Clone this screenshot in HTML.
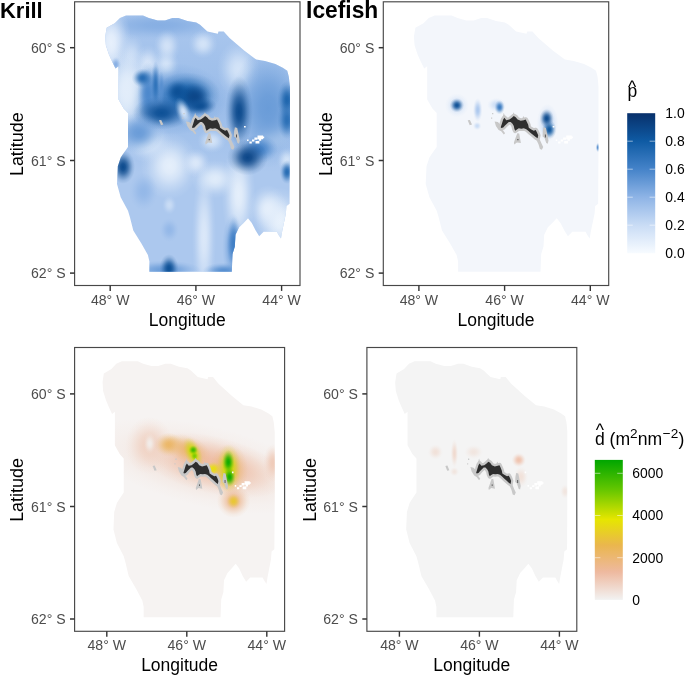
<!DOCTYPE html>
<html lang="en"><head><meta charset="utf-8"><title>Krill and Icefish maps</title>
<style>
html,body{margin:0;padding:0;background:#fff}
body{width:685px;height:676px;overflow:hidden}
svg{display:block}
text{font-family:"Liberation Sans",Arial,Helvetica,sans-serif}
.tk{font-size:14.1px;fill:#4d4d4d}
.ax{font-size:17.5px;fill:#000}
.tt{font-size:23.6px;font-weight:bold;fill:#000}
.lg{font-size:13.9px;fill:#000}
</style></head><body>
<svg width="685" height="676" viewBox="0 0 685 676">
<defs>
<clipPath id="reg"><polygon points="126.0,15.6 143.0,15.6 148.8,18.1 157.7,20.4 165.0,20.4 172.5,18.1 178.4,18.1 187.3,21.1 196.2,22.6 200.0,24.8 207.4,31.4 217.8,33.7 218.5,31.4 223.7,31.4 229.6,38.1 244.4,50.7 256.2,59.6 265.0,61.0 275.4,64.0 282.8,67.7 287.3,70.7 288.8,76.6 290.0,87.0 290.0,150.0 289.5,203.7 286.5,205.9 285.8,214.0 283.6,224.4 282.1,231.8 281.0,238.4 278.4,234.7 276.9,231.8 263.6,231.8 259.2,236.2 255.5,230.3 251.8,222.9 248.0,218.2 243.6,222.9 239.2,227.3 235.5,234.7 234.8,246.6 232.5,254.0 231.8,271.8 149.4,271.8 149.4,261.4 147.9,254.9 141.4,243.5 133.3,230.4 130.0,217.4 128.0,210.7 120.7,197.3 117.0,184.0 117.8,166.3 120.7,157.4 123.0,154.0 128.0,147.0 128.0,113.0 123.7,108.5 118.5,99.6 118.5,66.2 115.5,68.4 111.8,61.0 108.9,54.4 105.9,45.5 105.2,36.6 106.7,27.8 114.8,23.3 120.0,18.1"/></clipPath>
<linearGradient id="gp" x1="0" y1="1" x2="0" y2="0"><stop offset="0" stop-color="#f7fbff"/><stop offset="0.2" stop-color="#c9dcf5"/><stop offset="0.4" stop-color="#8eb4e6"/><stop offset="0.6" stop-color="#4583c9"/><stop offset="0.8" stop-color="#0f5ba4"/><stop offset="1.0" stop-color="#08306b"/></linearGradient>
<linearGradient id="gd" x1="0" y1="1" x2="0" y2="0"><stop offset="0" stop-color="#f2f2f2"/><stop offset="0.2" stop-color="#eeb99f"/><stop offset="0.39" stop-color="#eab64e"/><stop offset="0.575" stop-color="#e6e600"/><stop offset="0.79" stop-color="#63c600"/><stop offset="1.0" stop-color="#00a600"/></linearGradient>
<linearGradient id="base1" x1="0" y1="0" x2="0" y2="1"><stop offset="0" stop-color="#acc8ee"/><stop offset="0.35" stop-color="#9abce9"/><stop offset="0.6" stop-color="#acc8ee"/><stop offset="1" stop-color="#acc8ee"/></linearGradient>
<radialGradient id="g0"><stop offset="0" stop-color="#87afe3" stop-opacity="1"/><stop offset="0.2" stop-color="#87afe3" stop-opacity="0.92"/><stop offset="0.4" stop-color="#87afe3" stop-opacity="0.7"/><stop offset="0.6" stop-color="#87afe3" stop-opacity="0.4"/><stop offset="0.8" stop-color="#87afe3" stop-opacity="0.14"/><stop offset="1" stop-color="#87afe3" stop-opacity="0"/></radialGradient>
<radialGradient id="g1"><stop offset="0" stop-color="#e7f0fc" stop-opacity="1"/><stop offset="0.2" stop-color="#e7f0fc" stop-opacity="0.92"/><stop offset="0.4" stop-color="#e7f0fc" stop-opacity="0.7"/><stop offset="0.6" stop-color="#e7f0fc" stop-opacity="0.4"/><stop offset="0.8" stop-color="#e7f0fc" stop-opacity="0.14"/><stop offset="1" stop-color="#e7f0fc" stop-opacity="0"/></radialGradient>
<radialGradient id="g2"><stop offset="0" stop-color="#d2e2f7" stop-opacity="1"/><stop offset="0.2" stop-color="#d2e2f7" stop-opacity="0.92"/><stop offset="0.4" stop-color="#d2e2f7" stop-opacity="0.7"/><stop offset="0.6" stop-color="#d2e2f7" stop-opacity="0.4"/><stop offset="0.8" stop-color="#d2e2f7" stop-opacity="0.14"/><stop offset="1" stop-color="#d2e2f7" stop-opacity="0"/></radialGradient>
<radialGradient id="g3"><stop offset="0" stop-color="#d7e5f8" stop-opacity="1"/><stop offset="0.2" stop-color="#d7e5f8" stop-opacity="0.92"/><stop offset="0.4" stop-color="#d7e5f8" stop-opacity="0.7"/><stop offset="0.6" stop-color="#d7e5f8" stop-opacity="0.4"/><stop offset="0.8" stop-color="#d7e5f8" stop-opacity="0.14"/><stop offset="1" stop-color="#d7e5f8" stop-opacity="0"/></radialGradient>
<radialGradient id="g4"><stop offset="0" stop-color="#d4e4f8" stop-opacity="1"/><stop offset="0.2" stop-color="#d4e4f8" stop-opacity="0.92"/><stop offset="0.4" stop-color="#d4e4f8" stop-opacity="0.7"/><stop offset="0.6" stop-color="#d4e4f8" stop-opacity="0.4"/><stop offset="0.8" stop-color="#d4e4f8" stop-opacity="0.14"/><stop offset="1" stop-color="#d4e4f8" stop-opacity="0"/></radialGradient>
<radialGradient id="g5"><stop offset="0" stop-color="#c9dcf5" stop-opacity="1"/><stop offset="0.2" stop-color="#c9dcf5" stop-opacity="0.92"/><stop offset="0.4" stop-color="#c9dcf5" stop-opacity="0.7"/><stop offset="0.6" stop-color="#c9dcf5" stop-opacity="0.4"/><stop offset="0.8" stop-color="#c9dcf5" stop-opacity="0.14"/><stop offset="1" stop-color="#c9dcf5" stop-opacity="0"/></radialGradient>
<radialGradient id="g6"><stop offset="0" stop-color="#e0ecfa" stop-opacity="1"/><stop offset="0.2" stop-color="#e0ecfa" stop-opacity="0.92"/><stop offset="0.4" stop-color="#e0ecfa" stop-opacity="0.7"/><stop offset="0.6" stop-color="#e0ecfa" stop-opacity="0.4"/><stop offset="0.8" stop-color="#e0ecfa" stop-opacity="0.14"/><stop offset="1" stop-color="#e0ecfa" stop-opacity="0"/></radialGradient>
<radialGradient id="g7"><stop offset="0" stop-color="#e5effb" stop-opacity="1"/><stop offset="0.2" stop-color="#e5effb" stop-opacity="0.92"/><stop offset="0.4" stop-color="#e5effb" stop-opacity="0.7"/><stop offset="0.6" stop-color="#e5effb" stop-opacity="0.4"/><stop offset="0.8" stop-color="#e5effb" stop-opacity="0.14"/><stop offset="1" stop-color="#e5effb" stop-opacity="0"/></radialGradient>
<radialGradient id="g8"><stop offset="0" stop-color="#e9f2fc" stop-opacity="1"/><stop offset="0.2" stop-color="#e9f2fc" stop-opacity="0.92"/><stop offset="0.4" stop-color="#e9f2fc" stop-opacity="0.7"/><stop offset="0.6" stop-color="#e9f2fc" stop-opacity="0.4"/><stop offset="0.8" stop-color="#e9f2fc" stop-opacity="0.14"/><stop offset="1" stop-color="#e9f2fc" stop-opacity="0"/></radialGradient>
<radialGradient id="g9"><stop offset="0" stop-color="#dbe8f9" stop-opacity="1"/><stop offset="0.2" stop-color="#dbe8f9" stop-opacity="0.92"/><stop offset="0.4" stop-color="#dbe8f9" stop-opacity="0.7"/><stop offset="0.6" stop-color="#dbe8f9" stop-opacity="0.4"/><stop offset="0.8" stop-color="#dbe8f9" stop-opacity="0.14"/><stop offset="1" stop-color="#dbe8f9" stop-opacity="0"/></radialGradient>
<radialGradient id="g10"><stop offset="0" stop-color="#94b8e8" stop-opacity="1"/><stop offset="0.2" stop-color="#94b8e8" stop-opacity="0.92"/><stop offset="0.4" stop-color="#94b8e8" stop-opacity="0.7"/><stop offset="0.6" stop-color="#94b8e8" stop-opacity="0.4"/><stop offset="0.8" stop-color="#94b8e8" stop-opacity="0.14"/><stop offset="1" stop-color="#94b8e8" stop-opacity="0"/></radialGradient>
<radialGradient id="g11"><stop offset="0" stop-color="#578fd0" stop-opacity="1"/><stop offset="0.2" stop-color="#578fd0" stop-opacity="0.92"/><stop offset="0.4" stop-color="#578fd0" stop-opacity="0.7"/><stop offset="0.6" stop-color="#578fd0" stop-opacity="0.4"/><stop offset="0.8" stop-color="#578fd0" stop-opacity="0.14"/><stop offset="1" stop-color="#578fd0" stop-opacity="0"/></radialGradient>
<radialGradient id="g12"><stop offset="0" stop-color="#e2edfa" stop-opacity="1"/><stop offset="0.2" stop-color="#e2edfa" stop-opacity="0.92"/><stop offset="0.4" stop-color="#e2edfa" stop-opacity="0.7"/><stop offset="0.6" stop-color="#e2edfa" stop-opacity="0.4"/><stop offset="0.8" stop-color="#e2edfa" stop-opacity="0.14"/><stop offset="1" stop-color="#e2edfa" stop-opacity="0"/></radialGradient>
<radialGradient id="g13"><stop offset="0" stop-color="#4c88cc" stop-opacity="1"/><stop offset="0.2" stop-color="#4c88cc" stop-opacity="0.92"/><stop offset="0.4" stop-color="#4c88cc" stop-opacity="0.7"/><stop offset="0.6" stop-color="#4c88cc" stop-opacity="0.4"/><stop offset="0.8" stop-color="#4c88cc" stop-opacity="0.14"/><stop offset="1" stop-color="#4c88cc" stop-opacity="0"/></radialGradient>
<radialGradient id="g14"><stop offset="0" stop-color="#0f5ba4" stop-opacity="1"/><stop offset="0.2" stop-color="#0f5ba4" stop-opacity="0.92"/><stop offset="0.4" stop-color="#0f5ba4" stop-opacity="0.7"/><stop offset="0.6" stop-color="#0f5ba4" stop-opacity="0.4"/><stop offset="0.8" stop-color="#0f5ba4" stop-opacity="0.14"/><stop offset="1" stop-color="#0f5ba4" stop-opacity="0"/></radialGradient>
<radialGradient id="g15"><stop offset="0" stop-color="#0c4688" stop-opacity="1"/><stop offset="0.2" stop-color="#0c4688" stop-opacity="0.92"/><stop offset="0.4" stop-color="#0c4688" stop-opacity="0.7"/><stop offset="0.6" stop-color="#0c4688" stop-opacity="0.4"/><stop offset="0.8" stop-color="#0c4688" stop-opacity="0.14"/><stop offset="1" stop-color="#0c4688" stop-opacity="0"/></radialGradient>
<radialGradient id="g16"><stop offset="0" stop-color="#0d5096" stop-opacity="1"/><stop offset="0.2" stop-color="#0d5096" stop-opacity="0.92"/><stop offset="0.4" stop-color="#0d5096" stop-opacity="0.7"/><stop offset="0.6" stop-color="#0d5096" stop-opacity="0.4"/><stop offset="0.8" stop-color="#0d5096" stop-opacity="0.14"/><stop offset="1" stop-color="#0d5096" stop-opacity="0"/></radialGradient>
<radialGradient id="g17"><stop offset="0" stop-color="#0d4e93" stop-opacity="1"/><stop offset="0.2" stop-color="#0d4e93" stop-opacity="0.92"/><stop offset="0.4" stop-color="#0d4e93" stop-opacity="0.7"/><stop offset="0.6" stop-color="#0d4e93" stop-opacity="0.4"/><stop offset="0.8" stop-color="#0d4e93" stop-opacity="0.14"/><stop offset="1" stop-color="#0d4e93" stop-opacity="0"/></radialGradient>
<radialGradient id="g18"><stop offset="0" stop-color="#256bb3" stop-opacity="1"/><stop offset="0.2" stop-color="#256bb3" stop-opacity="0.92"/><stop offset="0.4" stop-color="#256bb3" stop-opacity="0.7"/><stop offset="0.6" stop-color="#256bb3" stop-opacity="0.4"/><stop offset="0.8" stop-color="#256bb3" stop-opacity="0.14"/><stop offset="1" stop-color="#256bb3" stop-opacity="0"/></radialGradient>
<radialGradient id="g19"><stop offset="0" stop-color="#2f73ba" stop-opacity="1"/><stop offset="0.2" stop-color="#2f73ba" stop-opacity="0.92"/><stop offset="0.4" stop-color="#2f73ba" stop-opacity="0.7"/><stop offset="0.6" stop-color="#2f73ba" stop-opacity="0.4"/><stop offset="0.8" stop-color="#2f73ba" stop-opacity="0.14"/><stop offset="1" stop-color="#2f73ba" stop-opacity="0"/></radialGradient>
<radialGradient id="g20"><stop offset="0" stop-color="#6a9cd8" stop-opacity="1"/><stop offset="0.2" stop-color="#6a9cd8" stop-opacity="0.92"/><stop offset="0.4" stop-color="#6a9cd8" stop-opacity="0.7"/><stop offset="0.6" stop-color="#6a9cd8" stop-opacity="0.4"/><stop offset="0.8" stop-color="#6a9cd8" stop-opacity="0.14"/><stop offset="1" stop-color="#6a9cd8" stop-opacity="0"/></radialGradient>
<radialGradient id="g21"><stop offset="0" stop-color="#0c4a8d" stop-opacity="1"/><stop offset="0.2" stop-color="#0c4a8d" stop-opacity="0.92"/><stop offset="0.4" stop-color="#0c4a8d" stop-opacity="0.7"/><stop offset="0.6" stop-color="#0c4a8d" stop-opacity="0.4"/><stop offset="0.8" stop-color="#0c4a8d" stop-opacity="0.14"/><stop offset="1" stop-color="#0c4a8d" stop-opacity="0"/></radialGradient>
<radialGradient id="g22"><stop offset="0" stop-color="#4583c9" stop-opacity="1"/><stop offset="0.2" stop-color="#4583c9" stop-opacity="0.92"/><stop offset="0.4" stop-color="#4583c9" stop-opacity="0.7"/><stop offset="0.6" stop-color="#4583c9" stop-opacity="0.4"/><stop offset="0.8" stop-color="#4583c9" stop-opacity="0.14"/><stop offset="1" stop-color="#4583c9" stop-opacity="0"/></radialGradient>
<radialGradient id="g23"><stop offset="0" stop-color="#1d65ad" stop-opacity="1"/><stop offset="0.2" stop-color="#1d65ad" stop-opacity="0.92"/><stop offset="0.4" stop-color="#1d65ad" stop-opacity="0.7"/><stop offset="0.6" stop-color="#1d65ad" stop-opacity="0.4"/><stop offset="0.8" stop-color="#1d65ad" stop-opacity="0.14"/><stop offset="1" stop-color="#1d65ad" stop-opacity="0"/></radialGradient>
<radialGradient id="g24"><stop offset="0" stop-color="#2a6fb6" stop-opacity="1"/><stop offset="0.2" stop-color="#2a6fb6" stop-opacity="0.92"/><stop offset="0.4" stop-color="#2a6fb6" stop-opacity="0.7"/><stop offset="0.6" stop-color="#2a6fb6" stop-opacity="0.4"/><stop offset="0.8" stop-color="#2a6fb6" stop-opacity="0.14"/><stop offset="1" stop-color="#2a6fb6" stop-opacity="0"/></radialGradient>
<radialGradient id="g25"><stop offset="0" stop-color="#407fc5" stop-opacity="1"/><stop offset="0.2" stop-color="#407fc5" stop-opacity="0.92"/><stop offset="0.4" stop-color="#407fc5" stop-opacity="0.7"/><stop offset="0.6" stop-color="#407fc5" stop-opacity="0.4"/><stop offset="0.8" stop-color="#407fc5" stop-opacity="0.14"/><stop offset="1" stop-color="#407fc5" stop-opacity="0"/></radialGradient>
<radialGradient id="g26"><stop offset="0" stop-color="#cedff6" stop-opacity="1"/><stop offset="0.2" stop-color="#cedff6" stop-opacity="0.92"/><stop offset="0.4" stop-color="#cedff6" stop-opacity="0.7"/><stop offset="0.6" stop-color="#cedff6" stop-opacity="0.4"/><stop offset="0.8" stop-color="#cedff6" stop-opacity="0.14"/><stop offset="1" stop-color="#cedff6" stop-opacity="0"/></radialGradient>
<radialGradient id="g27"><stop offset="0" stop-color="#acc8ee" stop-opacity="1"/><stop offset="0.2" stop-color="#acc8ee" stop-opacity="0.92"/><stop offset="0.4" stop-color="#acc8ee" stop-opacity="0.7"/><stop offset="0.6" stop-color="#acc8ee" stop-opacity="0.4"/><stop offset="0.8" stop-color="#acc8ee" stop-opacity="0.14"/><stop offset="1" stop-color="#acc8ee" stop-opacity="0"/></radialGradient>
<radialGradient id="g28"><stop offset="0" stop-color="#3779c0" stop-opacity="1"/><stop offset="0.2" stop-color="#3779c0" stop-opacity="0.92"/><stop offset="0.4" stop-color="#3779c0" stop-opacity="0.7"/><stop offset="0.6" stop-color="#3779c0" stop-opacity="0.4"/><stop offset="0.8" stop-color="#3779c0" stop-opacity="0.14"/><stop offset="1" stop-color="#3779c0" stop-opacity="0"/></radialGradient>
<radialGradient id="g29"><stop offset="0" stop-color="#bad2f1" stop-opacity="1"/><stop offset="0.2" stop-color="#bad2f1" stop-opacity="0.92"/><stop offset="0.4" stop-color="#bad2f1" stop-opacity="0.7"/><stop offset="0.6" stop-color="#bad2f1" stop-opacity="0.4"/><stop offset="0.8" stop-color="#bad2f1" stop-opacity="0.14"/><stop offset="1" stop-color="#bad2f1" stop-opacity="0"/></radialGradient>
<radialGradient id="g30"><stop offset="0" stop-color="#0e579e" stop-opacity="1"/><stop offset="0.2" stop-color="#0e579e" stop-opacity="0.92"/><stop offset="0.4" stop-color="#0e579e" stop-opacity="0.7"/><stop offset="0.6" stop-color="#0e579e" stop-opacity="0.4"/><stop offset="0.8" stop-color="#0e579e" stop-opacity="0.14"/><stop offset="1" stop-color="#0e579e" stop-opacity="0"/></radialGradient>
<radialGradient id="g31"><stop offset="0" stop-color="#f1dfd6" stop-opacity="1"/><stop offset="0.2" stop-color="#f1dfd6" stop-opacity="0.92"/><stop offset="0.4" stop-color="#f1dfd6" stop-opacity="0.7"/><stop offset="0.6" stop-color="#f1dfd6" stop-opacity="0.4"/><stop offset="0.8" stop-color="#f1dfd6" stop-opacity="0.14"/><stop offset="1" stop-color="#f1dfd6" stop-opacity="0"/></radialGradient>
<radialGradient id="g32"><stop offset="0" stop-color="#eebca3" stop-opacity="1"/><stop offset="0.2" stop-color="#eebca3" stop-opacity="0.92"/><stop offset="0.4" stop-color="#eebca3" stop-opacity="0.7"/><stop offset="0.6" stop-color="#eebca3" stop-opacity="0.4"/><stop offset="0.8" stop-color="#eebca3" stop-opacity="0.14"/><stop offset="1" stop-color="#eebca3" stop-opacity="0"/></radialGradient>
<radialGradient id="g33"><stop offset="0" stop-color="#f0d2c3" stop-opacity="1"/><stop offset="0.2" stop-color="#f0d2c3" stop-opacity="0.92"/><stop offset="0.4" stop-color="#f0d2c3" stop-opacity="0.7"/><stop offset="0.6" stop-color="#f0d2c3" stop-opacity="0.4"/><stop offset="0.8" stop-color="#f0d2c3" stop-opacity="0.14"/><stop offset="1" stop-color="#f0d2c3" stop-opacity="0"/></radialGradient>
<radialGradient id="g34"><stop offset="0" stop-color="#f2edea" stop-opacity="1"/><stop offset="0.2" stop-color="#f2edea" stop-opacity="0.92"/><stop offset="0.4" stop-color="#f2edea" stop-opacity="0.7"/><stop offset="0.6" stop-color="#f2edea" stop-opacity="0.4"/><stop offset="0.8" stop-color="#f2edea" stop-opacity="0.14"/><stop offset="1" stop-color="#f2edea" stop-opacity="0"/></radialGradient>
<radialGradient id="g35"><stop offset="0" stop-color="#ebb766" stop-opacity="1"/><stop offset="0.2" stop-color="#ebb766" stop-opacity="0.92"/><stop offset="0.4" stop-color="#ebb766" stop-opacity="0.7"/><stop offset="0.6" stop-color="#ebb766" stop-opacity="0.4"/><stop offset="0.8" stop-color="#ebb766" stop-opacity="0.14"/><stop offset="1" stop-color="#ebb766" stop-opacity="0"/></radialGradient>
<radialGradient id="g36"><stop offset="0" stop-color="#ecb773" stop-opacity="1"/><stop offset="0.2" stop-color="#ecb773" stop-opacity="0.92"/><stop offset="0.4" stop-color="#ecb773" stop-opacity="0.7"/><stop offset="0.6" stop-color="#ecb773" stop-opacity="0.4"/><stop offset="0.8" stop-color="#ecb773" stop-opacity="0.14"/><stop offset="1" stop-color="#ecb773" stop-opacity="0"/></radialGradient>
<radialGradient id="g37"><stop offset="0" stop-color="#cadf00" stop-opacity="1"/><stop offset="0.2" stop-color="#cadf00" stop-opacity="0.92"/><stop offset="0.4" stop-color="#cadf00" stop-opacity="0.7"/><stop offset="0.6" stop-color="#cadf00" stop-opacity="0.4"/><stop offset="0.8" stop-color="#cadf00" stop-opacity="0.14"/><stop offset="1" stop-color="#cadf00" stop-opacity="0"/></radialGradient>
<radialGradient id="g38"><stop offset="0" stop-color="#40bb00" stop-opacity="1"/><stop offset="0.2" stop-color="#40bb00" stop-opacity="0.92"/><stop offset="0.4" stop-color="#40bb00" stop-opacity="0.7"/><stop offset="0.6" stop-color="#40bb00" stop-opacity="0.4"/><stop offset="0.8" stop-color="#40bb00" stop-opacity="0.14"/><stop offset="1" stop-color="#40bb00" stop-opacity="0"/></radialGradient>
<radialGradient id="g39"><stop offset="0" stop-color="#77cb00" stop-opacity="1"/><stop offset="0.2" stop-color="#77cb00" stop-opacity="0.92"/><stop offset="0.4" stop-color="#77cb00" stop-opacity="0.7"/><stop offset="0.6" stop-color="#77cb00" stop-opacity="0.4"/><stop offset="0.8" stop-color="#77cb00" stop-opacity="0.14"/><stop offset="1" stop-color="#77cb00" stop-opacity="0"/></radialGradient>
<radialGradient id="g40"><stop offset="0" stop-color="#e6e600" stop-opacity="1"/><stop offset="0.2" stop-color="#e6e600" stop-opacity="0.92"/><stop offset="0.4" stop-color="#e6e600" stop-opacity="0.7"/><stop offset="0.6" stop-color="#e6e600" stop-opacity="0.4"/><stop offset="0.8" stop-color="#e6e600" stop-opacity="0.14"/><stop offset="1" stop-color="#e6e600" stop-opacity="0"/></radialGradient>
<radialGradient id="g41"><stop offset="0" stop-color="#0eab00" stop-opacity="1"/><stop offset="0.2" stop-color="#0eab00" stop-opacity="0.92"/><stop offset="0.4" stop-color="#0eab00" stop-opacity="0.7"/><stop offset="0.6" stop-color="#0eab00" stop-opacity="0.4"/><stop offset="0.8" stop-color="#0eab00" stop-opacity="0.14"/><stop offset="1" stop-color="#0eab00" stop-opacity="0"/></radialGradient>
<radialGradient id="g42"><stop offset="0" stop-color="#edb993" stop-opacity="1"/><stop offset="0.2" stop-color="#edb993" stop-opacity="0.92"/><stop offset="0.4" stop-color="#edb993" stop-opacity="0.7"/><stop offset="0.6" stop-color="#edb993" stop-opacity="0.4"/><stop offset="0.8" stop-color="#edb993" stop-opacity="0.14"/><stop offset="1" stop-color="#edb993" stop-opacity="0"/></radialGradient>
<radialGradient id="g43"><stop offset="0" stop-color="#e9c733" stop-opacity="1"/><stop offset="0.2" stop-color="#e9c733" stop-opacity="0.92"/><stop offset="0.4" stop-color="#e9c733" stop-opacity="0.7"/><stop offset="0.6" stop-color="#e9c733" stop-opacity="0.4"/><stop offset="0.8" stop-color="#e9c733" stop-opacity="0.14"/><stop offset="1" stop-color="#e9c733" stop-opacity="0"/></radialGradient>
<radialGradient id="g44"><stop offset="0" stop-color="#efcbb9" stop-opacity="1"/><stop offset="0.2" stop-color="#efcbb9" stop-opacity="0.92"/><stop offset="0.4" stop-color="#efcbb9" stop-opacity="0.7"/><stop offset="0.6" stop-color="#efcbb9" stop-opacity="0.4"/><stop offset="0.8" stop-color="#efcbb9" stop-opacity="0.14"/><stop offset="1" stop-color="#efcbb9" stop-opacity="0"/></radialGradient>
<radialGradient id="g45"><stop offset="0" stop-color="#f1e1d9" stop-opacity="1"/><stop offset="0.2" stop-color="#f1e1d9" stop-opacity="0.92"/><stop offset="0.4" stop-color="#f1e1d9" stop-opacity="0.7"/><stop offset="0.6" stop-color="#f1e1d9" stop-opacity="0.4"/><stop offset="0.8" stop-color="#f1e1d9" stop-opacity="0.14"/><stop offset="1" stop-color="#f1e1d9" stop-opacity="0"/></radialGradient>
<radialGradient id="g46"><stop offset="0" stop-color="#f0dacf" stop-opacity="1"/><stop offset="0.2" stop-color="#f0dacf" stop-opacity="0.92"/><stop offset="0.4" stop-color="#f0dacf" stop-opacity="0.7"/><stop offset="0.6" stop-color="#f0dacf" stop-opacity="0.4"/><stop offset="0.8" stop-color="#f0dacf" stop-opacity="0.14"/><stop offset="1" stop-color="#f0dacf" stop-opacity="0"/></radialGradient>
<radialGradient id="g47"><stop offset="0" stop-color="#f1e5df" stop-opacity="1"/><stop offset="0.2" stop-color="#f1e5df" stop-opacity="0.92"/><stop offset="0.4" stop-color="#f1e5df" stop-opacity="0.7"/><stop offset="0.6" stop-color="#f1e5df" stop-opacity="0.4"/><stop offset="0.8" stop-color="#f1e5df" stop-opacity="0.14"/><stop offset="1" stop-color="#f1e5df" stop-opacity="0"/></radialGradient>
<radialGradient id="g48"><stop offset="0" stop-color="#efc2ad" stop-opacity="1"/><stop offset="0.2" stop-color="#efc2ad" stop-opacity="0.92"/><stop offset="0.4" stop-color="#efc2ad" stop-opacity="0.7"/><stop offset="0.6" stop-color="#efc2ad" stop-opacity="0.4"/><stop offset="0.8" stop-color="#efc2ad" stop-opacity="0.14"/><stop offset="1" stop-color="#efc2ad" stop-opacity="0"/></radialGradient>
</defs>
<rect width="685" height="676" fill="#fff"/>
<g transform=""><g clip-path="url(#reg)">
<rect x="100" y="10" width="200" height="270" fill="url(#base1)"/>
<ellipse cx="160" cy="25" rx="76.8" ry="15.6" fill="url(#g0)"/>
<ellipse cx="111" cy="43" rx="20.4" ry="40.8" fill="url(#g1)"/>
<ellipse cx="167" cy="46" rx="13.2" ry="16.8" fill="url(#g2)"/>
<ellipse cx="148" cy="64" rx="14.4" ry="19.2" fill="url(#g3)"/>
<ellipse cx="166" cy="65" rx="13.2" ry="16.8" fill="url(#g4)"/>
<ellipse cx="131" cy="55" rx="14.4" ry="21.6" fill="url(#g5)"/>
<ellipse cx="129" cy="90" rx="28.8" ry="43.2" fill="url(#g6)"/>
<ellipse cx="169.5" cy="166" rx="28.8" ry="33.6" fill="url(#g7)"/>
<ellipse cx="149" cy="144" rx="24.0" ry="19.2" fill="url(#g4)"/>
<ellipse cx="238.5" cy="195" rx="16.8" ry="52.8" fill="url(#g7)"/>
<ellipse cx="280" cy="221" rx="24.0" ry="33.6" fill="url(#g8)"/>
<ellipse cx="204" cy="237" rx="12.0" ry="72.0" fill="url(#g9)"/>
<ellipse cx="215" cy="179" rx="24.0" ry="19.2" fill="url(#g6)"/>
<ellipse cx="274" cy="137" rx="19.2" ry="14.4" fill="url(#g5)"/>
<ellipse cx="286.5" cy="159.5" rx="9.6" ry="12.0" fill="url(#g4)"/>
<ellipse cx="238.5" cy="69" rx="21.6" ry="28.8" fill="url(#g4)"/>
<ellipse cx="203" cy="44" rx="14.4" ry="14.4" fill="url(#g4)"/>
<ellipse cx="195.7" cy="163" rx="14.4" ry="14.4" fill="url(#g9)"/>
<ellipse cx="211.8" cy="141" rx="14.4" ry="12.0" fill="url(#g4)"/>
<ellipse cx="169.3" cy="205" rx="7.2" ry="9.6" fill="url(#g5)"/>
<ellipse cx="143.5" cy="191.5" rx="14.4" ry="19.2" fill="url(#g10)"/>
<ellipse cx="169.3" cy="230" rx="9.6" ry="12.0" fill="url(#g10)"/>
<ellipse cx="268" cy="209" rx="19.2" ry="24.0" fill="url(#g7)"/>
<ellipse cx="174" cy="99" rx="52.8" ry="36.0" fill="url(#g11)"/>
<ellipse cx="127" cy="92" rx="16.8" ry="40.8" fill="url(#g12)"/>
<ellipse cx="115.8" cy="64.5" rx="5.3" ry="7.7" fill="url(#g0)"/>
<ellipse cx="148" cy="93" rx="10.8" ry="31.2" fill="url(#g13)"/>
<ellipse cx="187" cy="95" rx="33.6" ry="22.8" fill="url(#g14)"/>
<ellipse cx="194.5" cy="97" rx="16.8" ry="14.4" fill="url(#g15)"/>
<ellipse cx="177.5" cy="92" rx="12.0" ry="12.0" fill="url(#g16)"/>
<ellipse cx="200" cy="106" rx="16.8" ry="9.6" fill="url(#g17)"/>
<ellipse cx="161.5" cy="113" rx="28.8" ry="16.8" fill="url(#g16)"/>
<ellipse cx="142.5" cy="78" rx="10.8" ry="9.6" fill="url(#g18)"/>
<ellipse cx="155.6" cy="85" rx="4.8" ry="24.0" fill="url(#g19)"/>
<ellipse cx="161.3" cy="88" rx="3.6" ry="16.8" fill="url(#g11)"/>
<ellipse cx="268" cy="108" rx="38.4" ry="60.0" fill="url(#g20)"/>
<ellipse cx="239" cy="112" rx="13.9" ry="36.0" fill="url(#g21)"/>
<ellipse cx="259" cy="149" rx="19.2" ry="14.4" fill="url(#g22)"/>
<ellipse cx="247.5" cy="157.5" rx="20.4" ry="18.0" fill="url(#g15)"/>
<ellipse cx="287" cy="100" rx="9.6" ry="19.2" fill="url(#g23)"/>
<ellipse cx="287" cy="120" rx="9.6" ry="19.2" fill="url(#g24)"/>
<ellipse cx="287" cy="172" rx="7.2" ry="12.0" fill="url(#g18)"/>
<ellipse cx="123" cy="167" rx="12.0" ry="16.8" fill="url(#g21)"/>
<ellipse cx="165" cy="270" rx="36.0" ry="9.6" fill="url(#g20)"/>
<ellipse cx="169" cy="268.5" rx="9.6" ry="14.4" fill="url(#g16)"/>
<ellipse cx="233" cy="247" rx="10.8" ry="33.6" fill="url(#g20)"/>
<ellipse cx="234" cy="243" rx="7.2" ry="26.4" fill="url(#g25)"/>
<ellipse cx="224" cy="271" rx="21.6" ry="8.4" fill="url(#g11)"/>
<ellipse cx="139" cy="133" rx="24.0" ry="20.4" fill="url(#g20)"/>
<ellipse cx="183.5" cy="112" rx="7.7" ry="15.6" fill="url(#g4)" transform="rotate(-20 183.5 112)"/>
</g>
<path d="M247,139.4h1.6v1.7h-1.6Z M249.4,141.6h2.4v2h-2.4Z M252,139.6h2.4v1.8h-2.4Z M254.4,137.4h2.9v2.4h-2.9Z M255.5,141h3.9v2.6h-3.9Z M257.5,135.6h5.6v3.6h-5.6Z M258.8,139.2h2.4v1.6h-2.4Z M262.6,136.6h1.6v1.6h-1.6Z M244,125.9h1.7v1.7h-1.7Z" fill="#fff"/>
<path d="M185.9,121.4 L189.2,122.1 L191.8,124.7 L192.5,129.3 L194.5,130.6 L196.4,133.2 L195.1,134.6 L192.5,131.3 L189.9,130.0 L187.2,126.0Z M208.6,133.2 L210.5,133.6 L212.2,143.1 L208.2,142.4 L205.6,144.4 L205.2,142.4 L206.9,137.8Z M228.6,136.5 L230.6,138.5 L232.6,143.1 L234.5,147.0 L233.2,149.7 L231.2,149.0 L229.9,144.4 L228.0,140.5 L226.0,137.8Z M234.9,127.3 L237.2,128.0 L238.5,133.9 L239.8,140.5 L239.1,143.8 L237.5,143.1 L235.8,137.8 L233.9,136.5 L234.1,131.3Z M193.8,118 L195.1,112.8 L197,118Z M203.4,116 L204.9,112.2 L206.6,116Z M213.2,119.5 L214.7,116 L216.3,119.5Z M183.4,113h1.2v1.3h-1.2Z M182.4,117.6h1.1v1.2h-1.1Z M159.0,120.3 L161.2,119.9 L163.3,124.6 L161.0,125.2Z" fill="#c8c8c8"/>
<path d="M192.0,127.2 L193.2,123.7 L194.5,119.6 L195.7,117.8 L197.6,120.2 L200.7,119.6 L203.2,117.8 L205.1,116.1 L207.0,117.2 L208.9,119.6 L212.0,120.8 L215.1,120.2 L217.0,119.6 L218.2,121.9 L219.5,124.8 L220.1,127.8 L222.6,129.5 L225.1,130.7 L227.0,130.1 L228.3,132.4 L229.5,135.3 L228.9,138.3 L227.0,137.1 L224.5,135.0 L222.0,133.0 L219.5,130.7 L217.6,129.2 L215.1,128.3 L212.6,128.7 L210.1,128.3 L208.2,129.5 L206.6,130.7 L205.7,128.9 L205.1,126.0 L203.8,123.7 L202.0,121.9 L200.1,121.9 L198.2,123.7 L196.3,125.4 L194.5,127.5 L192.6,128.0Z" fill="#c8c8c8" stroke="#c8c8c8" stroke-width="4.8" stroke-linejoin="round"/>
<path d="M192.0,127.2 L193.2,123.7 L194.5,119.6 L195.7,117.8 L197.6,120.2 L200.7,119.6 L203.2,117.8 L205.1,116.1 L207.0,117.2 L208.9,119.6 L212.0,120.8 L215.1,120.2 L217.0,119.6 L218.2,121.9 L219.5,124.8 L220.1,127.8 L222.6,129.5 L225.1,130.7 L227.0,130.1 L228.3,132.4 L229.5,135.3 L228.9,138.3 L227.0,137.1 L224.5,135.0 L222.0,133.0 L219.5,130.7 L217.6,129.2 L215.1,128.3 L212.6,128.7 L210.1,128.3 L208.2,129.5 L206.6,130.7 L205.7,128.9 L205.1,126.0 L203.8,123.7 L202.0,121.9 L200.1,121.9 L198.2,123.7 L196.3,125.4 L194.5,127.5 L192.6,128.0Z" fill="#2e2e2e"/>
<path d="M208.7,139h1v1.2h-1Z M236.2,134.5h0.8v3h-0.8Z" fill="#3a3a3a"/>
</g>
<g transform="translate(308.7,0)"><g clip-path="url(#reg)">
<rect x="100" y="10" width="200" height="270" fill="#f3f6fb"/>
<ellipse cx="148.2" cy="105.3" rx="12.0" ry="12.0" fill="url(#g26)"/>
<ellipse cx="148.2" cy="105.3" rx="7.2" ry="7.2" fill="url(#g16)"/>
<ellipse cx="169" cy="110" rx="4.8" ry="12.0" fill="url(#g27)"/>
<ellipse cx="168.5" cy="125.9" rx="4.3" ry="4.3" fill="url(#g5)"/>
<ellipse cx="188" cy="105" rx="9.6" ry="7.2" fill="url(#g5)"/>
<ellipse cx="190.9" cy="107.3" rx="5.3" ry="7.2" fill="url(#g28)"/>
<ellipse cx="238.8" cy="123" rx="10.8" ry="19.2" fill="url(#g29)"/>
<ellipse cx="238" cy="118.5" rx="7.2" ry="9.6" fill="url(#g21)"/>
<ellipse cx="240.5" cy="129.6" rx="7.2" ry="9.6" fill="url(#g30)"/>
<ellipse cx="289.4" cy="147.5" rx="2.4" ry="4.8" fill="url(#g22)"/>
</g>
<path d="M247,139.4h1.6v1.7h-1.6Z M249.4,141.6h2.4v2h-2.4Z M252,139.6h2.4v1.8h-2.4Z M254.4,137.4h2.9v2.4h-2.9Z M255.5,141h3.9v2.6h-3.9Z M257.5,135.6h5.6v3.6h-5.6Z M258.8,139.2h2.4v1.6h-2.4Z M262.6,136.6h1.6v1.6h-1.6Z M244,125.9h1.7v1.7h-1.7Z" fill="#fff"/>
<path d="M185.9,121.4 L189.2,122.1 L191.8,124.7 L192.5,129.3 L194.5,130.6 L196.4,133.2 L195.1,134.6 L192.5,131.3 L189.9,130.0 L187.2,126.0Z M208.6,133.2 L210.5,133.6 L212.2,143.1 L208.2,142.4 L205.6,144.4 L205.2,142.4 L206.9,137.8Z M228.6,136.5 L230.6,138.5 L232.6,143.1 L234.5,147.0 L233.2,149.7 L231.2,149.0 L229.9,144.4 L228.0,140.5 L226.0,137.8Z M234.9,127.3 L237.2,128.0 L238.5,133.9 L239.8,140.5 L239.1,143.8 L237.5,143.1 L235.8,137.8 L233.9,136.5 L234.1,131.3Z M193.8,118 L195.1,112.8 L197,118Z M203.4,116 L204.9,112.2 L206.6,116Z M213.2,119.5 L214.7,116 L216.3,119.5Z M183.4,113h1.2v1.3h-1.2Z M182.4,117.6h1.1v1.2h-1.1Z M159.0,120.3 L161.2,119.9 L163.3,124.6 L161.0,125.2Z" fill="#c8c8c8"/>
<path d="M192.0,127.2 L193.2,123.7 L194.5,119.6 L195.7,117.8 L197.6,120.2 L200.7,119.6 L203.2,117.8 L205.1,116.1 L207.0,117.2 L208.9,119.6 L212.0,120.8 L215.1,120.2 L217.0,119.6 L218.2,121.9 L219.5,124.8 L220.1,127.8 L222.6,129.5 L225.1,130.7 L227.0,130.1 L228.3,132.4 L229.5,135.3 L228.9,138.3 L227.0,137.1 L224.5,135.0 L222.0,133.0 L219.5,130.7 L217.6,129.2 L215.1,128.3 L212.6,128.7 L210.1,128.3 L208.2,129.5 L206.6,130.7 L205.7,128.9 L205.1,126.0 L203.8,123.7 L202.0,121.9 L200.1,121.9 L198.2,123.7 L196.3,125.4 L194.5,127.5 L192.6,128.0Z" fill="#c8c8c8" stroke="#c8c8c8" stroke-width="4.8" stroke-linejoin="round"/>
<path d="M192.0,127.2 L193.2,123.7 L194.5,119.6 L195.7,117.8 L197.6,120.2 L200.7,119.6 L203.2,117.8 L205.1,116.1 L207.0,117.2 L208.9,119.6 L212.0,120.8 L215.1,120.2 L217.0,119.6 L218.2,121.9 L219.5,124.8 L220.1,127.8 L222.6,129.5 L225.1,130.7 L227.0,130.1 L228.3,132.4 L229.5,135.3 L228.9,138.3 L227.0,137.1 L224.5,135.0 L222.0,133.0 L219.5,130.7 L217.6,129.2 L215.1,128.3 L212.6,128.7 L210.1,128.3 L208.2,129.5 L206.6,130.7 L205.7,128.9 L205.1,126.0 L203.8,123.7 L202.0,121.9 L200.1,121.9 L198.2,123.7 L196.3,125.4 L194.5,127.5 L192.6,128.0Z" fill="#2e2e2e"/>
<path d="M208.7,139h1v1.2h-1Z M236.2,134.5h0.8v3h-0.8Z" fill="#3a3a3a"/>
</g>
<g transform="translate(4.3,345.6) scale(0.933,1)"><g clip-path="url(#reg)">
<rect x="100" y="10" width="200" height="270" fill="#f6f3f2"/>
<ellipse cx="215.1" cy="120.4" rx="128.6" ry="40.8" fill="url(#g31)" transform="rotate(12 215.1 120.4)"/>
<ellipse cx="223.7" cy="119.4" rx="82.3" ry="28.8" fill="url(#g32)" transform="rotate(12 223.7 119.4)"/>
<ellipse cx="155.5" cy="99.9" rx="25.7" ry="28.8" fill="url(#g33)"/>
<ellipse cx="155.9" cy="97.9" rx="6.7" ry="10.8" fill="url(#g34)"/>
<ellipse cx="176.5" cy="99.1" rx="15.4" ry="12.0" fill="url(#g35)"/>
<ellipse cx="196.9" cy="104.4" rx="25.7" ry="14.4" fill="url(#g36)" transform="rotate(20 196.9 104.4)"/>
<ellipse cx="202.3" cy="107.4" rx="9.0" ry="16.8" fill="url(#g37)" transform="rotate(-25 202.3 107.4)"/>
<ellipse cx="202.6" cy="104.4" rx="5.1" ry="4.8" fill="url(#g38)"/>
<ellipse cx="203.9" cy="110.4" rx="3.9" ry="4.3" fill="url(#g39)"/>
<ellipse cx="224.5" cy="123.4" rx="10.3" ry="7.2" fill="url(#g40)"/>
<ellipse cx="240.8" cy="124.4" rx="20.6" ry="26.4" fill="url(#g35)"/>
<ellipse cx="240.5" cy="122.9" rx="12.9" ry="24.0" fill="url(#g37)"/>
<ellipse cx="240.1" cy="116.4" rx="6.7" ry="12.0" fill="url(#g41)"/>
<ellipse cx="241.4" cy="131.4" rx="6.7" ry="9.6" fill="url(#g41)"/>
<ellipse cx="245.7" cy="155.4" rx="18.0" ry="16.8" fill="url(#g42)"/>
<ellipse cx="245.7" cy="155.6" rx="7.7" ry="7.7" fill="url(#g43)"/>
<ellipse cx="287.9" cy="117.4" rx="10.3" ry="19.2" fill="url(#g44)"/>
</g>
<path d="M247,139.4h1.6v1.7h-1.6Z M249.4,141.6h2.4v2h-2.4Z M252,139.6h2.4v1.8h-2.4Z M254.4,137.4h2.9v2.4h-2.9Z M255.5,141h3.9v2.6h-3.9Z M257.5,135.6h5.6v3.6h-5.6Z M258.8,139.2h2.4v1.6h-2.4Z M262.6,136.6h1.6v1.6h-1.6Z M244,125.9h1.7v1.7h-1.7Z" fill="#fff"/>
<path d="M185.9,121.4 L189.2,122.1 L191.8,124.7 L192.5,129.3 L194.5,130.6 L196.4,133.2 L195.1,134.6 L192.5,131.3 L189.9,130.0 L187.2,126.0Z M208.6,133.2 L210.5,133.6 L212.2,143.1 L208.2,142.4 L205.6,144.4 L205.2,142.4 L206.9,137.8Z M228.6,136.5 L230.6,138.5 L232.6,143.1 L234.5,147.0 L233.2,149.7 L231.2,149.0 L229.9,144.4 L228.0,140.5 L226.0,137.8Z M234.9,127.3 L237.2,128.0 L238.5,133.9 L239.8,140.5 L239.1,143.8 L237.5,143.1 L235.8,137.8 L233.9,136.5 L234.1,131.3Z M193.8,118 L195.1,112.8 L197,118Z M203.4,116 L204.9,112.2 L206.6,116Z M213.2,119.5 L214.7,116 L216.3,119.5Z M183.4,113h1.2v1.3h-1.2Z M182.4,117.6h1.1v1.2h-1.1Z M159.0,120.3 L161.2,119.9 L163.3,124.6 L161.0,125.2Z" fill="#c8c8c8"/>
<path d="M192.0,127.2 L193.2,123.7 L194.5,119.6 L195.7,117.8 L197.6,120.2 L200.7,119.6 L203.2,117.8 L205.1,116.1 L207.0,117.2 L208.9,119.6 L212.0,120.8 L215.1,120.2 L217.0,119.6 L218.2,121.9 L219.5,124.8 L220.1,127.8 L222.6,129.5 L225.1,130.7 L227.0,130.1 L228.3,132.4 L229.5,135.3 L228.9,138.3 L227.0,137.1 L224.5,135.0 L222.0,133.0 L219.5,130.7 L217.6,129.2 L215.1,128.3 L212.6,128.7 L210.1,128.3 L208.2,129.5 L206.6,130.7 L205.7,128.9 L205.1,126.0 L203.8,123.7 L202.0,121.9 L200.1,121.9 L198.2,123.7 L196.3,125.4 L194.5,127.5 L192.6,128.0Z" fill="#c8c8c8" stroke="#c8c8c8" stroke-width="4.8" stroke-linejoin="round"/>
<path d="M192.0,127.2 L193.2,123.7 L194.5,119.6 L195.7,117.8 L197.6,120.2 L200.7,119.6 L203.2,117.8 L205.1,116.1 L207.0,117.2 L208.9,119.6 L212.0,120.8 L215.1,120.2 L217.0,119.6 L218.2,121.9 L219.5,124.8 L220.1,127.8 L222.6,129.5 L225.1,130.7 L227.0,130.1 L228.3,132.4 L229.5,135.3 L228.9,138.3 L227.0,137.1 L224.5,135.0 L222.0,133.0 L219.5,130.7 L217.6,129.2 L215.1,128.3 L212.6,128.7 L210.1,128.3 L208.2,129.5 L206.6,130.7 L205.7,128.9 L205.1,126.0 L203.8,123.7 L202.0,121.9 L200.1,121.9 L198.2,123.7 L196.3,125.4 L194.5,127.5 L192.6,128.0Z" fill="#2e2e2e"/>
<path d="M208.7,139h1v1.2h-1Z M236.2,134.5h0.8v3h-0.8Z" fill="#3a3a3a"/>
</g>
<g transform="translate(297.0,345.6) scale(0.933,1)"><g clip-path="url(#reg)">
<rect x="100" y="10" width="200" height="270" fill="#f4f4f4"/>
<ellipse cx="148.4" cy="106.4" rx="8.2" ry="7.7" fill="url(#g45)"/>
<ellipse cx="168.7" cy="107.8" rx="4.1" ry="14.4" fill="url(#g46)"/>
<ellipse cx="168.7" cy="126.1" rx="5.1" ry="4.8" fill="url(#g47)"/>
<ellipse cx="189.3" cy="106.4" rx="10.3" ry="7.2" fill="url(#g47)"/>
<ellipse cx="237.7" cy="114.4" rx="7.7" ry="7.2" fill="url(#g48)"/>
<ellipse cx="240.0" cy="131.4" rx="7.7" ry="10.8" fill="url(#g45)"/>
<ellipse cx="287.2" cy="145.9" rx="5.1" ry="7.2" fill="url(#g47)"/>
</g>
<path d="M247,139.4h1.6v1.7h-1.6Z M249.4,141.6h2.4v2h-2.4Z M252,139.6h2.4v1.8h-2.4Z M254.4,137.4h2.9v2.4h-2.9Z M255.5,141h3.9v2.6h-3.9Z M257.5,135.6h5.6v3.6h-5.6Z M258.8,139.2h2.4v1.6h-2.4Z M262.6,136.6h1.6v1.6h-1.6Z M244,125.9h1.7v1.7h-1.7Z" fill="#fff"/>
<path d="M185.9,121.4 L189.2,122.1 L191.8,124.7 L192.5,129.3 L194.5,130.6 L196.4,133.2 L195.1,134.6 L192.5,131.3 L189.9,130.0 L187.2,126.0Z M208.6,133.2 L210.5,133.6 L212.2,143.1 L208.2,142.4 L205.6,144.4 L205.2,142.4 L206.9,137.8Z M228.6,136.5 L230.6,138.5 L232.6,143.1 L234.5,147.0 L233.2,149.7 L231.2,149.0 L229.9,144.4 L228.0,140.5 L226.0,137.8Z M234.9,127.3 L237.2,128.0 L238.5,133.9 L239.8,140.5 L239.1,143.8 L237.5,143.1 L235.8,137.8 L233.9,136.5 L234.1,131.3Z M193.8,118 L195.1,112.8 L197,118Z M203.4,116 L204.9,112.2 L206.6,116Z M213.2,119.5 L214.7,116 L216.3,119.5Z M183.4,113h1.2v1.3h-1.2Z M182.4,117.6h1.1v1.2h-1.1Z M159.0,120.3 L161.2,119.9 L163.3,124.6 L161.0,125.2Z" fill="#c8c8c8"/>
<path d="M192.0,127.2 L193.2,123.7 L194.5,119.6 L195.7,117.8 L197.6,120.2 L200.7,119.6 L203.2,117.8 L205.1,116.1 L207.0,117.2 L208.9,119.6 L212.0,120.8 L215.1,120.2 L217.0,119.6 L218.2,121.9 L219.5,124.8 L220.1,127.8 L222.6,129.5 L225.1,130.7 L227.0,130.1 L228.3,132.4 L229.5,135.3 L228.9,138.3 L227.0,137.1 L224.5,135.0 L222.0,133.0 L219.5,130.7 L217.6,129.2 L215.1,128.3 L212.6,128.7 L210.1,128.3 L208.2,129.5 L206.6,130.7 L205.7,128.9 L205.1,126.0 L203.8,123.7 L202.0,121.9 L200.1,121.9 L198.2,123.7 L196.3,125.4 L194.5,127.5 L192.6,128.0Z" fill="#c8c8c8" stroke="#c8c8c8" stroke-width="4.8" stroke-linejoin="round"/>
<path d="M192.0,127.2 L193.2,123.7 L194.5,119.6 L195.7,117.8 L197.6,120.2 L200.7,119.6 L203.2,117.8 L205.1,116.1 L207.0,117.2 L208.9,119.6 L212.0,120.8 L215.1,120.2 L217.0,119.6 L218.2,121.9 L219.5,124.8 L220.1,127.8 L222.6,129.5 L225.1,130.7 L227.0,130.1 L228.3,132.4 L229.5,135.3 L228.9,138.3 L227.0,137.1 L224.5,135.0 L222.0,133.0 L219.5,130.7 L217.6,129.2 L215.1,128.3 L212.6,128.7 L210.1,128.3 L208.2,129.5 L206.6,130.7 L205.7,128.9 L205.1,126.0 L203.8,123.7 L202.0,121.9 L200.1,121.9 L198.2,123.7 L196.3,125.4 L194.5,127.5 L192.6,128.0Z" fill="#2e2e2e"/>
<path d="M208.7,139h1v1.2h-1Z M236.2,134.5h0.8v3h-0.8Z" fill="#3a3a3a"/>
</g>
<rect x="74.6" y="1.8" width="225.4" height="283.7" fill="none" stroke="#484848" stroke-width="1.15"/>
<line x1="110.2" y1="285.5" x2="110.2" y2="290.9" stroke="#333" stroke-width="1.4"/>
<text class="tk" x="110.2" y="304.5" text-anchor="middle">48° W</text>
<line x1="195.9" y1="285.5" x2="195.9" y2="290.9" stroke="#333" stroke-width="1.4"/>
<text class="tk" x="195.9" y="304.5" text-anchor="middle">46° W</text>
<line x1="281.6" y1="285.5" x2="281.6" y2="290.9" stroke="#333" stroke-width="1.4"/>
<text class="tk" x="281.6" y="304.5" text-anchor="middle">44° W</text>
<line x1="70.0" y1="47.7" x2="74.6" y2="47.7" stroke="#333" stroke-width="1.5"/>
<text class="tk" x="65.6" y="52.7" text-anchor="end">60° S</text>
<line x1="70.0" y1="160.5" x2="74.6" y2="160.5" stroke="#333" stroke-width="1.5"/>
<text class="tk" x="65.6" y="165.5" text-anchor="end">61° S</text>
<line x1="70.0" y1="273.1" x2="74.6" y2="273.1" stroke="#333" stroke-width="1.5"/>
<text class="tk" x="65.6" y="278.1" text-anchor="end">62° S</text>
<text class="ax" x="187.3" y="325.5" text-anchor="middle">Longitude</text>
<text class="ax" transform="translate(23.4,144.2) rotate(-90)" text-anchor="middle" style="font-size:17.9px">Latitude</text>
<rect x="383.3" y="1.8" width="225.4" height="283.7" fill="none" stroke="#484848" stroke-width="1.15"/>
<line x1="418.9" y1="285.5" x2="418.9" y2="290.9" stroke="#333" stroke-width="1.4"/>
<text class="tk" x="418.9" y="304.5" text-anchor="middle">48° W</text>
<line x1="504.6" y1="285.5" x2="504.6" y2="290.9" stroke="#333" stroke-width="1.4"/>
<text class="tk" x="504.6" y="304.5" text-anchor="middle">46° W</text>
<line x1="590.3" y1="285.5" x2="590.3" y2="290.9" stroke="#333" stroke-width="1.4"/>
<text class="tk" x="590.3" y="304.5" text-anchor="middle">44° W</text>
<line x1="378.7" y1="47.7" x2="383.3" y2="47.7" stroke="#333" stroke-width="1.5"/>
<text class="tk" x="374.3" y="52.7" text-anchor="end">60° S</text>
<line x1="378.7" y1="160.5" x2="383.3" y2="160.5" stroke="#333" stroke-width="1.5"/>
<text class="tk" x="374.3" y="165.5" text-anchor="end">61° S</text>
<line x1="378.7" y1="273.1" x2="383.3" y2="273.1" stroke="#333" stroke-width="1.5"/>
<text class="tk" x="374.3" y="278.1" text-anchor="end">62° S</text>
<text class="ax" x="496.0" y="325.5" text-anchor="middle">Longitude</text>
<text class="ax" transform="translate(332.1,144.2) rotate(-90)" text-anchor="middle" style="font-size:17.9px">Latitude</text>
<rect x="74.6" y="347.5" width="210.0" height="283.8" fill="none" stroke="#484848" stroke-width="1.15"/>
<line x1="106.8" y1="631.3" x2="106.8" y2="636.6999999999999" stroke="#333" stroke-width="1.4"/>
<text class="tk" x="106.8" y="650.3" text-anchor="middle">48° W</text>
<line x1="186.8" y1="631.3" x2="186.8" y2="636.6999999999999" stroke="#333" stroke-width="1.4"/>
<text class="tk" x="186.8" y="650.3" text-anchor="middle">46° W</text>
<line x1="266.8" y1="631.3" x2="266.8" y2="636.6999999999999" stroke="#333" stroke-width="1.4"/>
<text class="tk" x="266.8" y="650.3" text-anchor="middle">44° W</text>
<line x1="70.0" y1="393.9" x2="74.6" y2="393.9" stroke="#333" stroke-width="1.5"/>
<text class="tk" x="65.6" y="398.9" text-anchor="end">60° S</text>
<line x1="70.0" y1="506.5" x2="74.6" y2="506.5" stroke="#333" stroke-width="1.5"/>
<text class="tk" x="65.6" y="511.5" text-anchor="end">61° S</text>
<line x1="70.0" y1="619.0" x2="74.6" y2="619.0" stroke="#333" stroke-width="1.5"/>
<text class="tk" x="65.6" y="624.0" text-anchor="end">62° S</text>
<text class="ax" x="179.6" y="670.8" text-anchor="middle">Longitude</text>
<text class="ax" transform="translate(23.4,490.0) rotate(-90)" text-anchor="middle" style="font-size:17.9px">Latitude</text>
<rect x="366.9" y="347.5" width="209.9" height="283.8" fill="none" stroke="#484848" stroke-width="1.15"/>
<line x1="399.4" y1="631.3" x2="399.4" y2="636.6999999999999" stroke="#333" stroke-width="1.4"/>
<text class="tk" x="399.4" y="650.3" text-anchor="middle">48° W</text>
<line x1="479.4" y1="631.3" x2="479.4" y2="636.6999999999999" stroke="#333" stroke-width="1.4"/>
<text class="tk" x="479.4" y="650.3" text-anchor="middle">46° W</text>
<line x1="559.4" y1="631.3" x2="559.4" y2="636.6999999999999" stroke="#333" stroke-width="1.4"/>
<text class="tk" x="559.4" y="650.3" text-anchor="middle">44° W</text>
<line x1="362.3" y1="393.9" x2="366.9" y2="393.9" stroke="#333" stroke-width="1.5"/>
<text class="tk" x="357.9" y="398.9" text-anchor="end">60° S</text>
<line x1="362.3" y1="506.5" x2="366.9" y2="506.5" stroke="#333" stroke-width="1.5"/>
<text class="tk" x="357.9" y="511.5" text-anchor="end">61° S</text>
<line x1="362.3" y1="619.0" x2="366.9" y2="619.0" stroke="#333" stroke-width="1.5"/>
<text class="tk" x="357.9" y="624.0" text-anchor="end">62° S</text>
<text class="ax" x="471.8" y="670.8" text-anchor="middle">Longitude</text>
<text class="ax" transform="translate(315.7,490.0) rotate(-90)" text-anchor="middle" style="font-size:17.9px">Latitude</text>
<text class="tt" transform="translate(0,18) scale(0.975,1)" style="font-size:22.5px">Krill</text>
<text class="tt" transform="translate(306.1,18.2) scale(0.965,1)">Icefish</text>
<rect x="627.2" y="113.2" width="28" height="140" fill="url(#gp)"/>
<text class="lg" x="665.3" y="258.1">0.0</text>
<text class="lg" x="665.3" y="230.1">0.2</text>
<path d="M627.2,225.2h5.6M649.6,225.2h5.6" stroke="#fff" stroke-width="0.7" opacity="0.75"/>
<text class="lg" x="665.3" y="202.1">0.4</text>
<path d="M627.2,197.2h5.6M649.6,197.2h5.6" stroke="#fff" stroke-width="0.7" opacity="0.75"/>
<text class="lg" x="665.3" y="174.1">0.6</text>
<path d="M627.2,169.2h5.6M649.6,169.2h5.6" stroke="#fff" stroke-width="0.7" opacity="0.75"/>
<text class="lg" x="665.3" y="146.1">0.8</text>
<path d="M627.2,141.2h5.6M649.6,141.2h5.6" stroke="#fff" stroke-width="0.7" opacity="0.75"/>
<text class="lg" x="665.3" y="118.1">1.0</text>
<text class="ax" x="627.6" y="97.4">p</text><text x="628" y="92.5" style="font-size:17.5px">^</text>
<rect x="594.8" y="459.9" width="28" height="140" fill="url(#gd)"/>
<text class="lg" x="632.3" y="604.8">0</text>
<text class="lg" x="632.3" y="562.6">2000</text>
<path d="M594.8,557.7h5.6M617.2,557.7h5.6" stroke="#fff" stroke-width="0.7" opacity="0.75"/>
<text class="lg" x="632.3" y="520.4">4000</text>
<path d="M594.8,515.5h5.6M617.2,515.5h5.6" stroke="#fff" stroke-width="0.7" opacity="0.75"/>
<text class="lg" x="632.3" y="478.2">6000</text>
<path d="M594.8,473.3h5.6M617.2,473.3h5.6" stroke="#fff" stroke-width="0.7" opacity="0.75"/>
<text class="ax" x="594.9" y="444.5" style="font-size:17.6px">d (m<tspan dy="-6.6" style="font-size:13.6px">2</tspan><tspan dy="6.6">nm</tspan><tspan dy="-6.6" style="font-size:13.6px" dx="0.6">−2</tspan><tspan dy="6.6" dx="0.2">)</tspan></text>
<text x="595.7" y="435.6" style="font-size:17.5px">^</text>
</svg></body></html>
